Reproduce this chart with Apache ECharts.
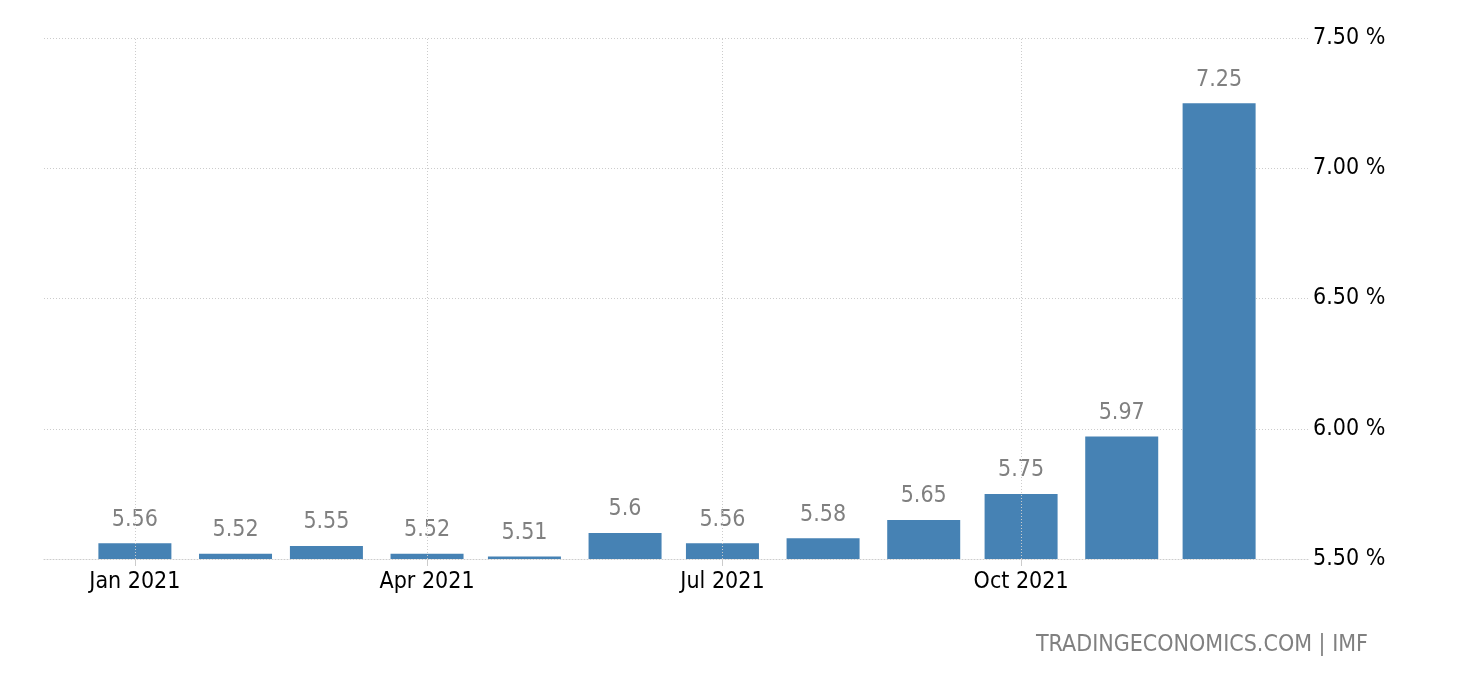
<!DOCTYPE html>
<html><head><meta charset="utf-8">
<script src="https://cdn.jsdelivr.net/npm/echarts@6/dist/echarts.min.js"></script>
<style>html,body{margin:0;padding:0;background:#fff}#c{width:1460px;height:680px}</style>
</head><body><div id="c"></div>
<script>
const months = ['2021-01-01','2021-02-01','2021-03-01','2021-04-01','2021-05-01','2021-06-01','2021-07-01','2021-08-01','2021-09-01','2021-10-01','2021-11-01','2021-12-01'];
const values = [5.56,5.52,5.55,5.52,5.51,5.6,5.56,5.58,5.65,5.75,5.97,7.25];
const xTicks = ['2021-01-01','2021-04-01','2021-07-01','2021-10-01'];
const monthNames = ['Jan','Feb','Mar','Apr','May','Jun','Jul','Aug','Sep','Oct','Nov','Dec'];
const yMin = 5.5, yMax = 7.5, yStep = 0.5;

const ts = d => new Date(d + 'T00:00:00Z').getTime();
const tickTs = xTicks.map(ts);
const chart = echarts.init(document.getElementById('c'));
const font = '"DejaVu Sans Condensed", "DejaVu Sans"';
chart.setOption({
  animation: false,
  grid: {left: 44, right: 150, top: 38, bottom: 121, containLabel: false},
  xAxis: {
    type: 'value',
    min: ts('2020-12-04'),
    max: ts('2021-12-29'),
    axisLine: {show: true, lineStyle: {color: '#cccccc', type: [1, 2], width: 1}},
    axisTick: {show: true, customValues: tickTs, length: 7, lineStyle: {color: '#cccccc'}},
    axisLabel: {
      customValues: tickTs, color: '#000', fontFamily: font, fontSize: 23, margin: 12,
      formatter: v => { const d = new Date(v); return monthNames[d.getUTCMonth()] + ' ' + d.getUTCFullYear(); }
    },
    splitLine: {show: false}
  },
  yAxis: {
    type: 'value', position: 'right', min: yMin, max: yMax, interval: yStep,
    axisLine: {show: false}, axisTick: {show: false},
    axisLabel: {color: '#000', fontFamily: font, fontSize: 23, margin: 3, formatter: v => v.toFixed(2) + ' %'},
    splitLine: {show: true, lineStyle: {color: '#cccccc', type: [1, 2], width: 1}}
  },
  series: [{
    type: 'bar',
    barWidth: 73,
    data: months.map((m, i) => [ts(m), values[i]]),
    itemStyle: {color: '#4682b4'},
    label: {show: true, position: 'top', distance: 12, color: '#808080', fontFamily: font, fontSize: 23, formatter: p => String(p.value[1])},
    markLine: {
      silent: true, symbol: 'none', label: {show: false},
      lineStyle: {color: '#cccccc', type: [1, 2], width: 1},
      data: tickTs.map(t => ({xAxis: t}))
    }
  }],
  graphic: [{
    type: 'text', right: 92, top: 634,
    style: {text: 'TRADINGECONOMICS.COM | IMF', fill: '#808080', font: '23px "DejaVu Sans Condensed", "DejaVu Sans"'}
  }]
});
</script></body></html>
